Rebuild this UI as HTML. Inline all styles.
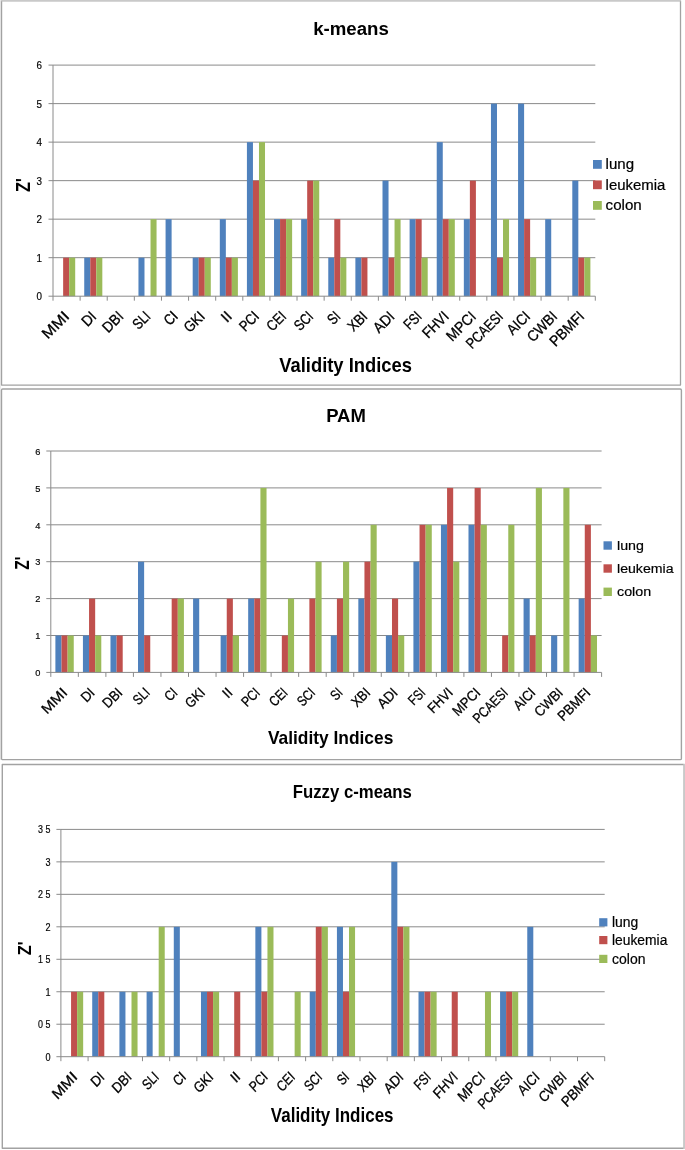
<!DOCTYPE html>
<html lang="en"><head><meta charset="utf-8"><title>Validity indices charts</title>
<style>
html,body{margin:0;padding:0;background:#fff}
svg{display:block}
text{font-family:"Liberation Sans",Arial,sans-serif;fill:#000}
.b{font-weight:bold}
</style></head><body>
<svg width="685" height="1150" viewBox="0 0 685 1150">
<rect width="685" height="1150" fill="#fff"/>
<rect x="0" y="0" width="0.9" height="760" fill="#e8e8e8"/>
<g id="chart1">
<rect x="0.9" y="0" width="680.2" height="1.75" fill="#c9c9c9"/>
<path d="M1.55,1.2 L1.55,385.1 L680.5,385.1 L680.5,1.2" fill="none" stroke="#a2a2a2" stroke-width="1.3" stroke-linejoin="round"/>
<line x1="53" y1="257.68" x2="595.3" y2="257.68" stroke="#8a8a8a" stroke-width="1"/>
<line x1="53" y1="219.17" x2="595.3" y2="219.17" stroke="#8a8a8a" stroke-width="1"/>
<line x1="53" y1="180.65" x2="595.3" y2="180.65" stroke="#8a8a8a" stroke-width="1"/>
<line x1="53" y1="142.13" x2="595.3" y2="142.13" stroke="#8a8a8a" stroke-width="1"/>
<line x1="53" y1="103.62" x2="595.3" y2="103.62" stroke="#8a8a8a" stroke-width="1"/>
<line x1="53" y1="65.1" x2="595.3" y2="65.1" stroke="#8a8a8a" stroke-width="1"/>
<rect x="63.14" y="257.68" width="6.03" height="38.52" fill="#c0504d"/>
<rect x="69.17" y="257.68" width="6.03" height="38.52" fill="#9bbb59"/>
<rect x="84.23" y="257.68" width="6.03" height="38.52" fill="#4f81bd"/>
<rect x="90.26" y="257.68" width="6.03" height="38.52" fill="#c0504d"/>
<rect x="96.29" y="257.68" width="6.03" height="38.52" fill="#9bbb59"/>
<rect x="138.46" y="257.68" width="6.03" height="38.52" fill="#4f81bd"/>
<rect x="150.52" y="219.17" width="6.03" height="77.03" fill="#9bbb59"/>
<rect x="165.58" y="219.17" width="6.03" height="77.03" fill="#4f81bd"/>
<rect x="192.69" y="257.68" width="6.03" height="38.52" fill="#4f81bd"/>
<rect x="198.72" y="257.68" width="6.03" height="38.52" fill="#c0504d"/>
<rect x="204.75" y="257.68" width="6.03" height="38.52" fill="#9bbb59"/>
<rect x="219.81" y="219.17" width="6.03" height="77.03" fill="#4f81bd"/>
<rect x="225.83" y="257.68" width="6.03" height="38.52" fill="#c0504d"/>
<rect x="231.86" y="257.68" width="6.03" height="38.52" fill="#9bbb59"/>
<rect x="246.92" y="142.13" width="6.03" height="154.07" fill="#4f81bd"/>
<rect x="252.95" y="180.65" width="6.03" height="115.55" fill="#c0504d"/>
<rect x="258.98" y="142.13" width="6.03" height="154.07" fill="#9bbb59"/>
<rect x="274.04" y="219.17" width="6.03" height="77.03" fill="#4f81bd"/>
<rect x="280.06" y="219.17" width="6.03" height="77.03" fill="#c0504d"/>
<rect x="286.09" y="219.17" width="6.03" height="77.03" fill="#9bbb59"/>
<rect x="301.15" y="219.17" width="6.03" height="77.03" fill="#4f81bd"/>
<rect x="307.18" y="180.65" width="6.03" height="115.55" fill="#c0504d"/>
<rect x="313.21" y="180.65" width="6.03" height="115.55" fill="#9bbb59"/>
<rect x="328.27" y="257.68" width="6.03" height="38.52" fill="#4f81bd"/>
<rect x="334.29" y="219.17" width="6.03" height="77.03" fill="#c0504d"/>
<rect x="340.32" y="257.68" width="6.03" height="38.52" fill="#9bbb59"/>
<rect x="355.38" y="257.68" width="6.03" height="38.52" fill="#4f81bd"/>
<rect x="361.41" y="257.68" width="6.03" height="38.52" fill="#c0504d"/>
<rect x="382.5" y="180.65" width="6.03" height="115.55" fill="#4f81bd"/>
<rect x="388.52" y="257.68" width="6.03" height="38.52" fill="#c0504d"/>
<rect x="394.55" y="219.17" width="6.03" height="77.03" fill="#9bbb59"/>
<rect x="409.61" y="219.17" width="6.03" height="77.03" fill="#4f81bd"/>
<rect x="415.64" y="219.17" width="6.03" height="77.03" fill="#c0504d"/>
<rect x="421.67" y="257.68" width="6.03" height="38.52" fill="#9bbb59"/>
<rect x="436.73" y="142.13" width="6.03" height="154.07" fill="#4f81bd"/>
<rect x="442.75" y="219.17" width="6.03" height="77.03" fill="#c0504d"/>
<rect x="448.78" y="219.17" width="6.03" height="77.03" fill="#9bbb59"/>
<rect x="463.84" y="219.17" width="6.03" height="77.03" fill="#4f81bd"/>
<rect x="469.87" y="180.65" width="6.03" height="115.55" fill="#c0504d"/>
<rect x="490.96" y="103.62" width="6.03" height="192.58" fill="#4f81bd"/>
<rect x="496.98" y="257.68" width="6.03" height="38.52" fill="#c0504d"/>
<rect x="503.01" y="219.17" width="6.03" height="77.03" fill="#9bbb59"/>
<rect x="518.07" y="103.62" width="6.03" height="192.58" fill="#4f81bd"/>
<rect x="524.1" y="219.17" width="6.03" height="77.03" fill="#c0504d"/>
<rect x="530.13" y="257.68" width="6.03" height="38.52" fill="#9bbb59"/>
<rect x="545.19" y="219.17" width="6.03" height="77.03" fill="#4f81bd"/>
<rect x="572.3" y="180.65" width="6.03" height="115.55" fill="#4f81bd"/>
<rect x="578.33" y="257.68" width="6.03" height="38.52" fill="#c0504d"/>
<rect x="584.36" y="257.68" width="6.03" height="38.52" fill="#9bbb59"/>
<line x1="53" y1="65.1" x2="53" y2="300.7" stroke="#8a8a8a" stroke-width="1"/>
<line x1="48.5" y1="296.2" x2="595.3" y2="296.2" stroke="#8a8a8a" stroke-width="1"/>
<line x1="48.5" y1="257.68" x2="53" y2="257.68" stroke="#8a8a8a" stroke-width="1"/>
<line x1="48.5" y1="219.17" x2="53" y2="219.17" stroke="#8a8a8a" stroke-width="1"/>
<line x1="48.5" y1="180.65" x2="53" y2="180.65" stroke="#8a8a8a" stroke-width="1"/>
<line x1="48.5" y1="142.13" x2="53" y2="142.13" stroke="#8a8a8a" stroke-width="1"/>
<line x1="48.5" y1="103.62" x2="53" y2="103.62" stroke="#8a8a8a" stroke-width="1"/>
<line x1="48.5" y1="65.1" x2="53" y2="65.1" stroke="#8a8a8a" stroke-width="1"/>
<line x1="80.11" y1="296.2" x2="80.11" y2="300.7" stroke="#8a8a8a" stroke-width="1"/>
<line x1="107.23" y1="296.2" x2="107.23" y2="300.7" stroke="#8a8a8a" stroke-width="1"/>
<line x1="134.34" y1="296.2" x2="134.34" y2="300.7" stroke="#8a8a8a" stroke-width="1"/>
<line x1="161.46" y1="296.2" x2="161.46" y2="300.7" stroke="#8a8a8a" stroke-width="1"/>
<line x1="188.57" y1="296.2" x2="188.57" y2="300.7" stroke="#8a8a8a" stroke-width="1"/>
<line x1="215.69" y1="296.2" x2="215.69" y2="300.7" stroke="#8a8a8a" stroke-width="1"/>
<line x1="242.8" y1="296.2" x2="242.8" y2="300.7" stroke="#8a8a8a" stroke-width="1"/>
<line x1="269.92" y1="296.2" x2="269.92" y2="300.7" stroke="#8a8a8a" stroke-width="1"/>
<line x1="297.03" y1="296.2" x2="297.03" y2="300.7" stroke="#8a8a8a" stroke-width="1"/>
<line x1="324.15" y1="296.2" x2="324.15" y2="300.7" stroke="#8a8a8a" stroke-width="1"/>
<line x1="351.26" y1="296.2" x2="351.26" y2="300.7" stroke="#8a8a8a" stroke-width="1"/>
<line x1="378.38" y1="296.2" x2="378.38" y2="300.7" stroke="#8a8a8a" stroke-width="1"/>
<line x1="405.5" y1="296.2" x2="405.5" y2="300.7" stroke="#8a8a8a" stroke-width="1"/>
<line x1="432.61" y1="296.2" x2="432.61" y2="300.7" stroke="#8a8a8a" stroke-width="1"/>
<line x1="459.72" y1="296.2" x2="459.72" y2="300.7" stroke="#8a8a8a" stroke-width="1"/>
<line x1="486.84" y1="296.2" x2="486.84" y2="300.7" stroke="#8a8a8a" stroke-width="1"/>
<line x1="513.95" y1="296.2" x2="513.95" y2="300.7" stroke="#8a8a8a" stroke-width="1"/>
<line x1="541.07" y1="296.2" x2="541.07" y2="300.7" stroke="#8a8a8a" stroke-width="1"/>
<line x1="568.18" y1="296.2" x2="568.18" y2="300.7" stroke="#8a8a8a" stroke-width="1"/>
<line x1="595.3" y1="296.2" x2="595.3" y2="300.7" stroke="#8a8a8a" stroke-width="1"/>
<g transform="translate(41.9,296.2) scale(1.0,1.0)"><text x="0" y="3.91" text-anchor="end" font-size="10.48" textLength="5.47" lengthAdjust="spacingAndGlyphs" fill="#111" stroke="#111" stroke-width="0.2">0</text></g>
<g transform="translate(41.9,257.68) scale(1.0,1.0)"><text x="0" y="3.91" text-anchor="end" font-size="10.48" textLength="5.47" lengthAdjust="spacingAndGlyphs" fill="#111" stroke="#111" stroke-width="0.2">1</text></g>
<g transform="translate(41.9,219.17) scale(1.0,1.0)"><text x="0" y="3.91" text-anchor="end" font-size="10.48" textLength="5.47" lengthAdjust="spacingAndGlyphs" fill="#111" stroke="#111" stroke-width="0.2">2</text></g>
<g transform="translate(41.9,180.65) scale(1.0,1.0)"><text x="0" y="3.91" text-anchor="end" font-size="10.48" textLength="5.47" lengthAdjust="spacingAndGlyphs" fill="#111" stroke="#111" stroke-width="0.2">3</text></g>
<g transform="translate(41.9,142.13) scale(1.0,1.0)"><text x="0" y="3.91" text-anchor="end" font-size="10.48" textLength="5.47" lengthAdjust="spacingAndGlyphs" fill="#111" stroke="#111" stroke-width="0.2">4</text></g>
<g transform="translate(41.9,103.62) scale(1.0,1.0)"><text x="0" y="3.91" text-anchor="end" font-size="10.48" textLength="5.47" lengthAdjust="spacingAndGlyphs" fill="#111" stroke="#111" stroke-width="0.2">5</text></g>
<g transform="translate(41.9,65.1) scale(1.0,1.0)"><text x="0" y="3.91" text-anchor="end" font-size="10.48" textLength="5.47" lengthAdjust="spacingAndGlyphs" fill="#111" stroke="#111" stroke-width="0.2">6</text></g>
<g transform="translate(70.16,317.4) scale(1.0,1.0) rotate(-45)"><text x="0" y="0" text-anchor="end" font-size="14.97" textLength="31.59" lengthAdjust="spacingAndGlyphs" stroke="#000" stroke-width="0.3">MMI</text></g>
<g transform="translate(97.27,317.4) scale(1.0,1.0) rotate(-45)"><text x="0" y="0" text-anchor="end" font-size="14.97" textLength="13.96" lengthAdjust="spacingAndGlyphs" stroke="#000" stroke-width="0.3">DI</text></g>
<g transform="translate(124.39,317.4) scale(1.0,1.0) rotate(-45)"><text x="0" y="0" text-anchor="end" font-size="14.97" textLength="22.72" lengthAdjust="spacingAndGlyphs" stroke="#000" stroke-width="0.3">DBI</text></g>
<g transform="translate(151.5,317.4) scale(1.0,1.0) rotate(-45)"><text x="0" y="0" text-anchor="end" font-size="14.97" textLength="18.22" lengthAdjust="spacingAndGlyphs" stroke="#000" stroke-width="0.3">SLI</text></g>
<g transform="translate(178.62,317.4) scale(1.0,1.0) rotate(-45)"><text x="0" y="0" text-anchor="end" font-size="14.97" textLength="12.64" lengthAdjust="spacingAndGlyphs" stroke="#000" stroke-width="0.3">CI</text></g>
<g transform="translate(205.73,317.4) scale(1.0,1.0) rotate(-45)"><text x="0" y="0" text-anchor="end" font-size="14.97" textLength="22.58" lengthAdjust="spacingAndGlyphs" stroke="#000" stroke-width="0.3">GKI</text></g>
<g transform="translate(232.85,317.4) scale(1.0,1.0) rotate(-45)"><text x="0" y="0" text-anchor="end" font-size="14.97" textLength="8.11" lengthAdjust="spacingAndGlyphs" stroke="#000" stroke-width="0.3">II</text></g>
<g transform="translate(259.96,317.4) scale(1.0,1.0) rotate(-45)"><text x="0" y="0" text-anchor="end" font-size="14.97" textLength="20.96" lengthAdjust="spacingAndGlyphs" stroke="#000" stroke-width="0.3">PCI</text></g>
<g transform="translate(287.08,317.4) scale(1.0,1.0) rotate(-45)"><text x="0" y="0" text-anchor="end" font-size="14.97" textLength="20.5" lengthAdjust="spacingAndGlyphs" stroke="#000" stroke-width="0.3">CEI</text></g>
<g transform="translate(314.19,317.4) scale(1.0,1.0) rotate(-45)"><text x="0" y="0" text-anchor="end" font-size="14.97" textLength="20.04" lengthAdjust="spacingAndGlyphs" stroke="#000" stroke-width="0.3">SCI</text></g>
<g transform="translate(341.31,317.4) scale(1.0,1.0) rotate(-45)"><text x="0" y="0" text-anchor="end" font-size="14.97" textLength="11.45" lengthAdjust="spacingAndGlyphs" stroke="#000" stroke-width="0.3">SI</text></g>
<g transform="translate(368.42,317.4) scale(1.0,1.0) rotate(-45)"><text x="0" y="0" text-anchor="end" font-size="14.97" textLength="21.17" lengthAdjust="spacingAndGlyphs" stroke="#000" stroke-width="0.3">XBI</text></g>
<g transform="translate(395.54,317.4) scale(1.0,1.0) rotate(-45)"><text x="0" y="0" text-anchor="end" font-size="14.97" textLength="23.28" lengthAdjust="spacingAndGlyphs" stroke="#000" stroke-width="0.3">ADI</text></g>
<g transform="translate(422.65,317.4) scale(1.0,1.0) rotate(-45)"><text x="0" y="0" text-anchor="end" font-size="14.97" textLength="18.62" lengthAdjust="spacingAndGlyphs" stroke="#000" stroke-width="0.3">FSI</text></g>
<g transform="translate(449.77,317.4) scale(1.0,1.0) rotate(-45)"><text x="0" y="0" text-anchor="end" font-size="14.97" textLength="30.62" lengthAdjust="spacingAndGlyphs" stroke="#000" stroke-width="0.3">FHVI</text></g>
<g transform="translate(476.88,317.4) scale(1.0,1.0) rotate(-45)"><text x="0" y="0" text-anchor="end" font-size="14.97" textLength="34.72" lengthAdjust="spacingAndGlyphs" stroke="#000" stroke-width="0.3">MPCI</text></g>
<g transform="translate(504,317.4) scale(1.0,1.0) rotate(-45)"><text x="0" y="0" text-anchor="end" font-size="14.97" textLength="45.38" lengthAdjust="spacingAndGlyphs" stroke="#000" stroke-width="0.3">PCAESI</text></g>
<g transform="translate(531.11,317.4) scale(1.0,1.0) rotate(-45)"><text x="0" y="0" text-anchor="end" font-size="14.97" textLength="26.01" lengthAdjust="spacingAndGlyphs" stroke="#000" stroke-width="0.3">AICI</text></g>
<g transform="translate(558.23,317.4) scale(1.0,1.0) rotate(-45)"><text x="0" y="0" text-anchor="end" font-size="14.97" textLength="35.72" lengthAdjust="spacingAndGlyphs" stroke="#000" stroke-width="0.3">CWBI</text></g>
<g transform="translate(585.34,317.4) scale(1.0,1.0) rotate(-45)"><text x="0" y="0" text-anchor="end" font-size="14.97" textLength="42.29" lengthAdjust="spacingAndGlyphs" stroke="#000" stroke-width="0.3">PBMFI</text></g>
<g transform="translate(351,34.6) scale(1.0,1.0)"><text class="b" x="0" y="0" text-anchor="middle" font-size="19.19" textLength="75.64" lengthAdjust="spacingAndGlyphs">k-means</text></g>
<g transform="translate(345.6,371.8) scale(1.0,1.0)"><text class="b" x="0" y="0" text-anchor="middle" font-size="19.62" textLength="132.66" lengthAdjust="spacingAndGlyphs">Validity Indices</text></g>
<g transform="translate(29.6,185) scale(1.0,1.0) rotate(-90)"><text class="b" x="0" y="0" text-anchor="middle" font-size="20.68" textLength="13.81" lengthAdjust="spacingAndGlyphs">Z'</text></g>
<rect x="593" y="160" width="8.8" height="8.8" fill="#4f81bd"/>
<g transform="translate(605.6,164.4) scale(1.0,1.0)"><text x="0" y="4.7" font-size="14.25" textLength="28.47" lengthAdjust="spacingAndGlyphs" stroke="#000" stroke-width="0.2">lung</text></g>
<rect x="593" y="180.4" width="8.8" height="8.8" fill="#c0504d"/>
<g transform="translate(605.6,184.8) scale(1.0,1.0)"><text x="0" y="4.7" font-size="14.25" textLength="59.84" lengthAdjust="spacingAndGlyphs" stroke="#000" stroke-width="0.2">leukemia</text></g>
<rect x="593" y="201" width="8.8" height="8.8" fill="#9bbb59"/>
<g transform="translate(605.6,205.4) scale(1.0,1.0)"><text x="0" y="4.7" font-size="14.25" textLength="36.17" lengthAdjust="spacingAndGlyphs" stroke="#000" stroke-width="0.2">colon</text></g>
</g>
<g id="chart2">
<rect x="1.5" y="389" width="679.9" height="370.6" rx="1.2" fill="none" stroke="#a2a2a2" stroke-width="1.4"/>
<line x1="50.8" y1="635.5" x2="601.6" y2="635.5" stroke="#8a8a8a" stroke-width="1"/>
<line x1="50.8" y1="598.6" x2="601.6" y2="598.6" stroke="#8a8a8a" stroke-width="1"/>
<line x1="50.8" y1="561.7" x2="601.6" y2="561.7" stroke="#8a8a8a" stroke-width="1"/>
<line x1="50.8" y1="524.8" x2="601.6" y2="524.8" stroke="#8a8a8a" stroke-width="1"/>
<line x1="50.8" y1="487.9" x2="601.6" y2="487.9" stroke="#8a8a8a" stroke-width="1"/>
<line x1="50.8" y1="451" x2="601.6" y2="451" stroke="#8a8a8a" stroke-width="1"/>
<rect x="55.39" y="635.5" width="6.12" height="36.9" fill="#4f81bd"/>
<rect x="61.51" y="635.5" width="6.12" height="36.9" fill="#c0504d"/>
<rect x="67.63" y="635.5" width="6.12" height="36.9" fill="#9bbb59"/>
<rect x="82.93" y="635.5" width="6.12" height="36.9" fill="#4f81bd"/>
<rect x="89.05" y="598.6" width="6.12" height="73.8" fill="#c0504d"/>
<rect x="95.17" y="635.5" width="6.12" height="36.9" fill="#9bbb59"/>
<rect x="110.47" y="635.5" width="6.12" height="36.9" fill="#4f81bd"/>
<rect x="116.59" y="635.5" width="6.12" height="36.9" fill="#c0504d"/>
<rect x="138.01" y="561.7" width="6.12" height="110.7" fill="#4f81bd"/>
<rect x="144.13" y="635.5" width="6.12" height="36.9" fill="#c0504d"/>
<rect x="171.67" y="598.6" width="6.12" height="73.8" fill="#c0504d"/>
<rect x="177.79" y="598.6" width="6.12" height="73.8" fill="#9bbb59"/>
<rect x="193.09" y="598.6" width="6.12" height="73.8" fill="#4f81bd"/>
<rect x="220.63" y="635.5" width="6.12" height="36.9" fill="#4f81bd"/>
<rect x="226.75" y="598.6" width="6.12" height="73.8" fill="#c0504d"/>
<rect x="232.87" y="635.5" width="6.12" height="36.9" fill="#9bbb59"/>
<rect x="248.17" y="598.6" width="6.12" height="73.8" fill="#4f81bd"/>
<rect x="254.29" y="598.6" width="6.12" height="73.8" fill="#c0504d"/>
<rect x="260.41" y="487.9" width="6.12" height="184.5" fill="#9bbb59"/>
<rect x="281.83" y="635.5" width="6.12" height="36.9" fill="#c0504d"/>
<rect x="287.95" y="598.6" width="6.12" height="73.8" fill="#9bbb59"/>
<rect x="309.37" y="598.6" width="6.12" height="73.8" fill="#c0504d"/>
<rect x="315.49" y="561.7" width="6.12" height="110.7" fill="#9bbb59"/>
<rect x="330.79" y="635.5" width="6.12" height="36.9" fill="#4f81bd"/>
<rect x="336.91" y="598.6" width="6.12" height="73.8" fill="#c0504d"/>
<rect x="343.03" y="561.7" width="6.12" height="110.7" fill="#9bbb59"/>
<rect x="358.33" y="598.6" width="6.12" height="73.8" fill="#4f81bd"/>
<rect x="364.45" y="561.7" width="6.12" height="110.7" fill="#c0504d"/>
<rect x="370.57" y="524.8" width="6.12" height="147.6" fill="#9bbb59"/>
<rect x="385.87" y="635.5" width="6.12" height="36.9" fill="#4f81bd"/>
<rect x="391.99" y="598.6" width="6.12" height="73.8" fill="#c0504d"/>
<rect x="398.11" y="635.5" width="6.12" height="36.9" fill="#9bbb59"/>
<rect x="413.41" y="561.7" width="6.12" height="110.7" fill="#4f81bd"/>
<rect x="419.53" y="524.8" width="6.12" height="147.6" fill="#c0504d"/>
<rect x="425.65" y="524.8" width="6.12" height="147.6" fill="#9bbb59"/>
<rect x="440.95" y="524.8" width="6.12" height="147.6" fill="#4f81bd"/>
<rect x="447.07" y="487.9" width="6.12" height="184.5" fill="#c0504d"/>
<rect x="453.19" y="561.7" width="6.12" height="110.7" fill="#9bbb59"/>
<rect x="468.49" y="524.8" width="6.12" height="147.6" fill="#4f81bd"/>
<rect x="474.61" y="487.9" width="6.12" height="184.5" fill="#c0504d"/>
<rect x="480.73" y="524.8" width="6.12" height="147.6" fill="#9bbb59"/>
<rect x="502.15" y="635.5" width="6.12" height="36.9" fill="#c0504d"/>
<rect x="508.27" y="524.8" width="6.12" height="147.6" fill="#9bbb59"/>
<rect x="523.57" y="598.6" width="6.12" height="73.8" fill="#4f81bd"/>
<rect x="529.69" y="635.5" width="6.12" height="36.9" fill="#c0504d"/>
<rect x="535.81" y="487.9" width="6.12" height="184.5" fill="#9bbb59"/>
<rect x="551.11" y="635.5" width="6.12" height="36.9" fill="#4f81bd"/>
<rect x="563.35" y="487.9" width="6.12" height="184.5" fill="#9bbb59"/>
<rect x="578.65" y="598.6" width="6.12" height="73.8" fill="#4f81bd"/>
<rect x="584.77" y="524.8" width="6.12" height="147.6" fill="#c0504d"/>
<rect x="590.89" y="635.5" width="6.12" height="36.9" fill="#9bbb59"/>
<line x1="50.8" y1="451" x2="50.8" y2="676.9" stroke="#8a8a8a" stroke-width="1"/>
<line x1="46.3" y1="672.4" x2="601.6" y2="672.4" stroke="#8a8a8a" stroke-width="1"/>
<line x1="46.3" y1="635.5" x2="50.8" y2="635.5" stroke="#8a8a8a" stroke-width="1"/>
<line x1="46.3" y1="598.6" x2="50.8" y2="598.6" stroke="#8a8a8a" stroke-width="1"/>
<line x1="46.3" y1="561.7" x2="50.8" y2="561.7" stroke="#8a8a8a" stroke-width="1"/>
<line x1="46.3" y1="524.8" x2="50.8" y2="524.8" stroke="#8a8a8a" stroke-width="1"/>
<line x1="46.3" y1="487.9" x2="50.8" y2="487.9" stroke="#8a8a8a" stroke-width="1"/>
<line x1="46.3" y1="451" x2="50.8" y2="451" stroke="#8a8a8a" stroke-width="1"/>
<line x1="78.34" y1="672.4" x2="78.34" y2="676.9" stroke="#8a8a8a" stroke-width="1"/>
<line x1="105.88" y1="672.4" x2="105.88" y2="676.9" stroke="#8a8a8a" stroke-width="1"/>
<line x1="133.42" y1="672.4" x2="133.42" y2="676.9" stroke="#8a8a8a" stroke-width="1"/>
<line x1="160.96" y1="672.4" x2="160.96" y2="676.9" stroke="#8a8a8a" stroke-width="1"/>
<line x1="188.5" y1="672.4" x2="188.5" y2="676.9" stroke="#8a8a8a" stroke-width="1"/>
<line x1="216.04" y1="672.4" x2="216.04" y2="676.9" stroke="#8a8a8a" stroke-width="1"/>
<line x1="243.58" y1="672.4" x2="243.58" y2="676.9" stroke="#8a8a8a" stroke-width="1"/>
<line x1="271.12" y1="672.4" x2="271.12" y2="676.9" stroke="#8a8a8a" stroke-width="1"/>
<line x1="298.66" y1="672.4" x2="298.66" y2="676.9" stroke="#8a8a8a" stroke-width="1"/>
<line x1="326.2" y1="672.4" x2="326.2" y2="676.9" stroke="#8a8a8a" stroke-width="1"/>
<line x1="353.74" y1="672.4" x2="353.74" y2="676.9" stroke="#8a8a8a" stroke-width="1"/>
<line x1="381.28" y1="672.4" x2="381.28" y2="676.9" stroke="#8a8a8a" stroke-width="1"/>
<line x1="408.82" y1="672.4" x2="408.82" y2="676.9" stroke="#8a8a8a" stroke-width="1"/>
<line x1="436.36" y1="672.4" x2="436.36" y2="676.9" stroke="#8a8a8a" stroke-width="1"/>
<line x1="463.9" y1="672.4" x2="463.9" y2="676.9" stroke="#8a8a8a" stroke-width="1"/>
<line x1="491.44" y1="672.4" x2="491.44" y2="676.9" stroke="#8a8a8a" stroke-width="1"/>
<line x1="518.98" y1="672.4" x2="518.98" y2="676.9" stroke="#8a8a8a" stroke-width="1"/>
<line x1="546.52" y1="672.4" x2="546.52" y2="676.9" stroke="#8a8a8a" stroke-width="1"/>
<line x1="574.06" y1="672.4" x2="574.06" y2="676.9" stroke="#8a8a8a" stroke-width="1"/>
<line x1="601.6" y1="672.4" x2="601.6" y2="676.9" stroke="#8a8a8a" stroke-width="1"/>
<g transform="translate(40.4,672.4) scale(0.945,0.945)"><text x="0" y="3.91" text-anchor="end" font-size="10.48" textLength="5.47" lengthAdjust="spacingAndGlyphs" fill="#111" stroke="#111" stroke-width="0.2">0</text></g>
<g transform="translate(40.4,635.5) scale(0.945,0.945)"><text x="0" y="3.91" text-anchor="end" font-size="10.48" textLength="5.47" lengthAdjust="spacingAndGlyphs" fill="#111" stroke="#111" stroke-width="0.2">1</text></g>
<g transform="translate(40.4,598.6) scale(0.945,0.945)"><text x="0" y="3.91" text-anchor="end" font-size="10.48" textLength="5.47" lengthAdjust="spacingAndGlyphs" fill="#111" stroke="#111" stroke-width="0.2">2</text></g>
<g transform="translate(40.4,561.7) scale(0.945,0.945)"><text x="0" y="3.91" text-anchor="end" font-size="10.48" textLength="5.47" lengthAdjust="spacingAndGlyphs" fill="#111" stroke="#111" stroke-width="0.2">3</text></g>
<g transform="translate(40.4,524.8) scale(0.945,0.945)"><text x="0" y="3.91" text-anchor="end" font-size="10.48" textLength="5.47" lengthAdjust="spacingAndGlyphs" fill="#111" stroke="#111" stroke-width="0.2">4</text></g>
<g transform="translate(40.4,487.9) scale(0.945,0.945)"><text x="0" y="3.91" text-anchor="end" font-size="10.48" textLength="5.47" lengthAdjust="spacingAndGlyphs" fill="#111" stroke="#111" stroke-width="0.2">5</text></g>
<g transform="translate(40.4,451) scale(0.945,0.945)"><text x="0" y="3.91" text-anchor="end" font-size="10.48" textLength="5.47" lengthAdjust="spacingAndGlyphs" fill="#111" stroke="#111" stroke-width="0.2">6</text></g>
<g transform="translate(68.17,693.6) scale(0.945,0.945) rotate(-45)"><text x="0" y="0" text-anchor="end" font-size="14.97" textLength="31.59" lengthAdjust="spacingAndGlyphs" stroke="#000" stroke-width="0.3">MMI</text></g>
<g transform="translate(95.71,693.6) scale(0.945,0.945) rotate(-45)"><text x="0" y="0" text-anchor="end" font-size="14.97" textLength="13.96" lengthAdjust="spacingAndGlyphs" stroke="#000" stroke-width="0.3">DI</text></g>
<g transform="translate(123.25,693.6) scale(0.945,0.945) rotate(-45)"><text x="0" y="0" text-anchor="end" font-size="14.97" textLength="22.72" lengthAdjust="spacingAndGlyphs" stroke="#000" stroke-width="0.3">DBI</text></g>
<g transform="translate(150.79,693.6) scale(0.945,0.945) rotate(-45)"><text x="0" y="0" text-anchor="end" font-size="14.97" textLength="18.22" lengthAdjust="spacingAndGlyphs" stroke="#000" stroke-width="0.3">SLI</text></g>
<g transform="translate(178.33,693.6) scale(0.945,0.945) rotate(-45)"><text x="0" y="0" text-anchor="end" font-size="14.97" textLength="12.64" lengthAdjust="spacingAndGlyphs" stroke="#000" stroke-width="0.3">CI</text></g>
<g transform="translate(205.87,693.6) scale(0.945,0.945) rotate(-45)"><text x="0" y="0" text-anchor="end" font-size="14.97" textLength="22.58" lengthAdjust="spacingAndGlyphs" stroke="#000" stroke-width="0.3">GKI</text></g>
<g transform="translate(233.41,693.6) scale(0.945,0.945) rotate(-45)"><text x="0" y="0" text-anchor="end" font-size="14.97" textLength="8.11" lengthAdjust="spacingAndGlyphs" stroke="#000" stroke-width="0.3">II</text></g>
<g transform="translate(260.95,693.6) scale(0.945,0.945) rotate(-45)"><text x="0" y="0" text-anchor="end" font-size="14.97" textLength="20.96" lengthAdjust="spacingAndGlyphs" stroke="#000" stroke-width="0.3">PCI</text></g>
<g transform="translate(288.49,693.6) scale(0.945,0.945) rotate(-45)"><text x="0" y="0" text-anchor="end" font-size="14.97" textLength="20.5" lengthAdjust="spacingAndGlyphs" stroke="#000" stroke-width="0.3">CEI</text></g>
<g transform="translate(316.03,693.6) scale(0.945,0.945) rotate(-45)"><text x="0" y="0" text-anchor="end" font-size="14.97" textLength="20.04" lengthAdjust="spacingAndGlyphs" stroke="#000" stroke-width="0.3">SCI</text></g>
<g transform="translate(343.57,693.6) scale(0.945,0.945) rotate(-45)"><text x="0" y="0" text-anchor="end" font-size="14.97" textLength="11.45" lengthAdjust="spacingAndGlyphs" stroke="#000" stroke-width="0.3">SI</text></g>
<g transform="translate(371.11,693.6) scale(0.945,0.945) rotate(-45)"><text x="0" y="0" text-anchor="end" font-size="14.97" textLength="21.17" lengthAdjust="spacingAndGlyphs" stroke="#000" stroke-width="0.3">XBI</text></g>
<g transform="translate(398.65,693.6) scale(0.945,0.945) rotate(-45)"><text x="0" y="0" text-anchor="end" font-size="14.97" textLength="23.28" lengthAdjust="spacingAndGlyphs" stroke="#000" stroke-width="0.3">ADI</text></g>
<g transform="translate(426.19,693.6) scale(0.945,0.945) rotate(-45)"><text x="0" y="0" text-anchor="end" font-size="14.97" textLength="18.62" lengthAdjust="spacingAndGlyphs" stroke="#000" stroke-width="0.3">FSI</text></g>
<g transform="translate(453.73,693.6) scale(0.945,0.945) rotate(-45)"><text x="0" y="0" text-anchor="end" font-size="14.97" textLength="30.62" lengthAdjust="spacingAndGlyphs" stroke="#000" stroke-width="0.3">FHVI</text></g>
<g transform="translate(481.27,693.6) scale(0.945,0.945) rotate(-45)"><text x="0" y="0" text-anchor="end" font-size="14.97" textLength="34.72" lengthAdjust="spacingAndGlyphs" stroke="#000" stroke-width="0.3">MPCI</text></g>
<g transform="translate(508.81,693.6) scale(0.945,0.945) rotate(-45)"><text x="0" y="0" text-anchor="end" font-size="14.97" textLength="45.38" lengthAdjust="spacingAndGlyphs" stroke="#000" stroke-width="0.3">PCAESI</text></g>
<g transform="translate(536.35,693.6) scale(0.945,0.945) rotate(-45)"><text x="0" y="0" text-anchor="end" font-size="14.97" textLength="26.01" lengthAdjust="spacingAndGlyphs" stroke="#000" stroke-width="0.3">AICI</text></g>
<g transform="translate(563.89,693.6) scale(0.945,0.945) rotate(-45)"><text x="0" y="0" text-anchor="end" font-size="14.97" textLength="35.72" lengthAdjust="spacingAndGlyphs" stroke="#000" stroke-width="0.3">CWBI</text></g>
<g transform="translate(591.43,693.6) scale(0.945,0.945) rotate(-45)"><text x="0" y="0" text-anchor="end" font-size="14.97" textLength="42.29" lengthAdjust="spacingAndGlyphs" stroke="#000" stroke-width="0.3">PBMFI</text></g>
<g transform="translate(346,421.5) scale(0.945,0.945)"><text class="b" x="0" y="0" text-anchor="middle" font-size="19.93" textLength="42.04" lengthAdjust="spacingAndGlyphs">PAM</text></g>
<g transform="translate(330.6,744.3) scale(0.945,0.945)"><text class="b" x="0" y="0" text-anchor="middle" font-size="19.62" textLength="132.66" lengthAdjust="spacingAndGlyphs">Validity Indices</text></g>
<g transform="translate(28.5,563.2) scale(0.945,0.945) rotate(-90)"><text class="b" x="0" y="0" text-anchor="middle" font-size="20.68" textLength="13.81" lengthAdjust="spacingAndGlyphs">Z'</text></g>
<rect x="603.5" y="541.3" width="8.4" height="8.4" fill="#4f81bd"/>
<g transform="translate(617,545.5) scale(0.945,0.945)"><text x="0" y="4.4" font-size="14.25" textLength="28.47" lengthAdjust="spacingAndGlyphs" stroke="#000" stroke-width="0.2">lung</text></g>
<rect x="603.5" y="564.3" width="8.4" height="8.4" fill="#c0504d"/>
<g transform="translate(617,568.5) scale(0.945,0.945)"><text x="0" y="4.4" font-size="14.25" textLength="59.84" lengthAdjust="spacingAndGlyphs" stroke="#000" stroke-width="0.2">leukemia</text></g>
<rect x="603.5" y="587.6" width="8.4" height="8.4" fill="#9bbb59"/>
<g transform="translate(617,591.8) scale(0.945,0.945)"><text x="0" y="4.4" font-size="14.25" textLength="36.17" lengthAdjust="spacingAndGlyphs" stroke="#000" stroke-width="0.2">colon</text></g>
</g>
<g id="chart3">
<rect x="683.1" y="763.8" width="1.9" height="385.1" fill="#c9c9c9"/>
<path d="M683.4,764.45 L2.3,764.45 L2.3,1148.3 L683.4,1148.3" fill="none" stroke="#a2a2a2" stroke-width="1.4" stroke-linejoin="round"/>
<line x1="60.9" y1="1024.23" x2="604.7" y2="1024.23" stroke="#8a8a8a" stroke-width="1"/>
<line x1="60.9" y1="991.76" x2="604.7" y2="991.76" stroke="#8a8a8a" stroke-width="1"/>
<line x1="60.9" y1="959.29" x2="604.7" y2="959.29" stroke="#8a8a8a" stroke-width="1"/>
<line x1="60.9" y1="926.81" x2="604.7" y2="926.81" stroke="#8a8a8a" stroke-width="1"/>
<line x1="60.9" y1="894.34" x2="604.7" y2="894.34" stroke="#8a8a8a" stroke-width="1"/>
<line x1="60.9" y1="861.87" x2="604.7" y2="861.87" stroke="#8a8a8a" stroke-width="1"/>
<line x1="60.9" y1="829.4" x2="604.7" y2="829.4" stroke="#8a8a8a" stroke-width="1"/>
<rect x="71.07" y="991.76" width="6.04" height="64.94" fill="#c0504d"/>
<rect x="77.12" y="991.76" width="6.04" height="64.94" fill="#9bbb59"/>
<rect x="92.22" y="991.76" width="6.04" height="64.94" fill="#4f81bd"/>
<rect x="98.26" y="991.76" width="6.04" height="64.94" fill="#c0504d"/>
<rect x="119.41" y="991.76" width="6.04" height="64.94" fill="#4f81bd"/>
<rect x="131.5" y="991.76" width="6.04" height="64.94" fill="#9bbb59"/>
<rect x="146.6" y="991.76" width="6.04" height="64.94" fill="#4f81bd"/>
<rect x="158.69" y="926.81" width="6.04" height="129.89" fill="#9bbb59"/>
<rect x="173.79" y="926.81" width="6.04" height="129.89" fill="#4f81bd"/>
<rect x="200.98" y="991.76" width="6.04" height="64.94" fill="#4f81bd"/>
<rect x="207.02" y="991.76" width="6.04" height="64.94" fill="#c0504d"/>
<rect x="213.07" y="991.76" width="6.04" height="64.94" fill="#9bbb59"/>
<rect x="234.21" y="991.76" width="6.04" height="64.94" fill="#c0504d"/>
<rect x="255.36" y="926.81" width="6.04" height="129.89" fill="#4f81bd"/>
<rect x="261.4" y="991.76" width="6.04" height="64.94" fill="#c0504d"/>
<rect x="267.45" y="926.81" width="6.04" height="129.89" fill="#9bbb59"/>
<rect x="294.64" y="991.76" width="6.04" height="64.94" fill="#9bbb59"/>
<rect x="309.74" y="991.76" width="6.04" height="64.94" fill="#4f81bd"/>
<rect x="315.78" y="926.81" width="6.04" height="129.89" fill="#c0504d"/>
<rect x="321.83" y="926.81" width="6.04" height="129.89" fill="#9bbb59"/>
<rect x="336.93" y="926.81" width="6.04" height="129.89" fill="#4f81bd"/>
<rect x="342.97" y="991.76" width="6.04" height="64.94" fill="#c0504d"/>
<rect x="349.02" y="926.81" width="6.04" height="129.89" fill="#9bbb59"/>
<rect x="391.31" y="861.87" width="6.04" height="194.83" fill="#4f81bd"/>
<rect x="397.35" y="926.81" width="6.04" height="129.89" fill="#c0504d"/>
<rect x="403.4" y="926.81" width="6.04" height="129.89" fill="#9bbb59"/>
<rect x="418.5" y="991.76" width="6.04" height="64.94" fill="#4f81bd"/>
<rect x="424.54" y="991.76" width="6.04" height="64.94" fill="#c0504d"/>
<rect x="430.59" y="991.76" width="6.04" height="64.94" fill="#9bbb59"/>
<rect x="451.73" y="991.76" width="6.04" height="64.94" fill="#c0504d"/>
<rect x="484.97" y="991.76" width="6.04" height="64.94" fill="#9bbb59"/>
<rect x="500.07" y="991.76" width="6.04" height="64.94" fill="#4f81bd"/>
<rect x="506.11" y="991.76" width="6.04" height="64.94" fill="#c0504d"/>
<rect x="512.16" y="991.76" width="6.04" height="64.94" fill="#9bbb59"/>
<rect x="527.26" y="926.81" width="6.04" height="129.89" fill="#4f81bd"/>
<line x1="60.9" y1="829.4" x2="60.9" y2="1061.2" stroke="#8a8a8a" stroke-width="1"/>
<line x1="56.4" y1="1056.7" x2="604.7" y2="1056.7" stroke="#8a8a8a" stroke-width="1"/>
<line x1="56.4" y1="1024.23" x2="60.9" y2="1024.23" stroke="#8a8a8a" stroke-width="1"/>
<line x1="56.4" y1="991.76" x2="60.9" y2="991.76" stroke="#8a8a8a" stroke-width="1"/>
<line x1="56.4" y1="959.29" x2="60.9" y2="959.29" stroke="#8a8a8a" stroke-width="1"/>
<line x1="56.4" y1="926.81" x2="60.9" y2="926.81" stroke="#8a8a8a" stroke-width="1"/>
<line x1="56.4" y1="894.34" x2="60.9" y2="894.34" stroke="#8a8a8a" stroke-width="1"/>
<line x1="56.4" y1="861.87" x2="60.9" y2="861.87" stroke="#8a8a8a" stroke-width="1"/>
<line x1="56.4" y1="829.4" x2="60.9" y2="829.4" stroke="#8a8a8a" stroke-width="1"/>
<line x1="88.09" y1="1056.7" x2="88.09" y2="1061.2" stroke="#8a8a8a" stroke-width="1"/>
<line x1="142.47" y1="1056.7" x2="142.47" y2="1061.2" stroke="#8a8a8a" stroke-width="1"/>
<line x1="169.66" y1="1056.7" x2="169.66" y2="1061.2" stroke="#8a8a8a" stroke-width="1"/>
<line x1="196.85" y1="1056.7" x2="196.85" y2="1061.2" stroke="#8a8a8a" stroke-width="1"/>
<line x1="224.04" y1="1056.7" x2="224.04" y2="1061.2" stroke="#8a8a8a" stroke-width="1"/>
<line x1="251.23" y1="1056.7" x2="251.23" y2="1061.2" stroke="#8a8a8a" stroke-width="1"/>
<line x1="278.42" y1="1056.7" x2="278.42" y2="1061.2" stroke="#8a8a8a" stroke-width="1"/>
<line x1="305.61" y1="1056.7" x2="305.61" y2="1061.2" stroke="#8a8a8a" stroke-width="1"/>
<line x1="332.8" y1="1056.7" x2="332.8" y2="1061.2" stroke="#8a8a8a" stroke-width="1"/>
<line x1="359.99" y1="1056.7" x2="359.99" y2="1061.2" stroke="#8a8a8a" stroke-width="1"/>
<line x1="387.18" y1="1056.7" x2="387.18" y2="1061.2" stroke="#8a8a8a" stroke-width="1"/>
<line x1="414.37" y1="1056.7" x2="414.37" y2="1061.2" stroke="#8a8a8a" stroke-width="1"/>
<line x1="441.56" y1="1056.7" x2="441.56" y2="1061.2" stroke="#8a8a8a" stroke-width="1"/>
<line x1="468.75" y1="1056.7" x2="468.75" y2="1061.2" stroke="#8a8a8a" stroke-width="1"/>
<line x1="495.94" y1="1056.7" x2="495.94" y2="1061.2" stroke="#8a8a8a" stroke-width="1"/>
<line x1="550.32" y1="1056.7" x2="550.32" y2="1061.2" stroke="#8a8a8a" stroke-width="1"/>
<line x1="577.51" y1="1056.7" x2="577.51" y2="1061.2" stroke="#8a8a8a" stroke-width="1"/>
<line x1="604.7" y1="1056.7" x2="604.7" y2="1061.2" stroke="#8a8a8a" stroke-width="1"/>
<g transform="translate(50.5,1056.7) scale(0.925,1.0)"><text x="0" y="3.91" text-anchor="end" font-size="10.48" textLength="5.47" lengthAdjust="spacingAndGlyphs" fill="#111" stroke="#111" stroke-width="0.2">0</text></g>
<g transform="translate(50.5,1024.23) scale(0.925,1.0)"><text x="0" y="3.91" text-anchor="end" font-size="10.48" textLength="13.39" lengthAdjust="spacingAndGlyphs" fill="#111" stroke="#111" stroke-width="0.2">0 5</text></g>
<g transform="translate(50.5,991.76) scale(0.925,1.0)"><text x="0" y="3.91" text-anchor="end" font-size="10.48" textLength="5.47" lengthAdjust="spacingAndGlyphs" fill="#111" stroke="#111" stroke-width="0.2">1</text></g>
<g transform="translate(50.5,959.29) scale(0.925,1.0)"><text x="0" y="3.91" text-anchor="end" font-size="10.48" textLength="13.39" lengthAdjust="spacingAndGlyphs" fill="#111" stroke="#111" stroke-width="0.2">1 5</text></g>
<g transform="translate(50.5,926.81) scale(0.925,1.0)"><text x="0" y="3.91" text-anchor="end" font-size="10.48" textLength="5.47" lengthAdjust="spacingAndGlyphs" fill="#111" stroke="#111" stroke-width="0.2">2</text></g>
<g transform="translate(50.5,894.34) scale(0.925,1.0)"><text x="0" y="3.91" text-anchor="end" font-size="10.48" textLength="13.39" lengthAdjust="spacingAndGlyphs" fill="#111" stroke="#111" stroke-width="0.2">2 5</text></g>
<g transform="translate(50.5,861.87) scale(0.925,1.0)"><text x="0" y="3.91" text-anchor="end" font-size="10.48" textLength="5.47" lengthAdjust="spacingAndGlyphs" fill="#111" stroke="#111" stroke-width="0.2">3</text></g>
<g transform="translate(50.5,829.4) scale(0.925,1.0)"><text x="0" y="3.91" text-anchor="end" font-size="10.48" textLength="13.39" lengthAdjust="spacingAndGlyphs" fill="#111" stroke="#111" stroke-width="0.2">3 5</text></g>
<g transform="translate(78.09,1077.9) scale(0.925,1.0) rotate(-45)"><text x="0" y="0" text-anchor="end" font-size="14.97" textLength="31.59" lengthAdjust="spacingAndGlyphs" stroke="#000" stroke-width="0.3">MMI</text></g>
<g transform="translate(105.28,1077.9) scale(0.925,1.0) rotate(-45)"><text x="0" y="0" text-anchor="end" font-size="14.97" textLength="13.96" lengthAdjust="spacingAndGlyphs" stroke="#000" stroke-width="0.3">DI</text></g>
<g transform="translate(132.47,1077.9) scale(0.925,1.0) rotate(-45)"><text x="0" y="0" text-anchor="end" font-size="14.97" textLength="22.72" lengthAdjust="spacingAndGlyphs" stroke="#000" stroke-width="0.3">DBI</text></g>
<g transform="translate(159.67,1077.9) scale(0.925,1.0) rotate(-45)"><text x="0" y="0" text-anchor="end" font-size="14.97" textLength="18.22" lengthAdjust="spacingAndGlyphs" stroke="#000" stroke-width="0.3">SLI</text></g>
<g transform="translate(186.86,1077.9) scale(0.925,1.0) rotate(-45)"><text x="0" y="0" text-anchor="end" font-size="14.97" textLength="12.64" lengthAdjust="spacingAndGlyphs" stroke="#000" stroke-width="0.3">CI</text></g>
<g transform="translate(214.05,1077.9) scale(0.925,1.0) rotate(-45)"><text x="0" y="0" text-anchor="end" font-size="14.97" textLength="22.58" lengthAdjust="spacingAndGlyphs" stroke="#000" stroke-width="0.3">GKI</text></g>
<g transform="translate(241.24,1077.9) scale(0.925,1.0) rotate(-45)"><text x="0" y="0" text-anchor="end" font-size="14.97" textLength="8.11" lengthAdjust="spacingAndGlyphs" stroke="#000" stroke-width="0.3">II</text></g>
<g transform="translate(268.43,1077.9) scale(0.925,1.0) rotate(-45)"><text x="0" y="0" text-anchor="end" font-size="14.97" textLength="20.96" lengthAdjust="spacingAndGlyphs" stroke="#000" stroke-width="0.3">PCI</text></g>
<g transform="translate(295.62,1077.9) scale(0.925,1.0) rotate(-45)"><text x="0" y="0" text-anchor="end" font-size="14.97" textLength="20.5" lengthAdjust="spacingAndGlyphs" stroke="#000" stroke-width="0.3">CEI</text></g>
<g transform="translate(322.81,1077.9) scale(0.925,1.0) rotate(-45)"><text x="0" y="0" text-anchor="end" font-size="14.97" textLength="20.04" lengthAdjust="spacingAndGlyphs" stroke="#000" stroke-width="0.3">SCI</text></g>
<g transform="translate(350,1077.9) scale(0.925,1.0) rotate(-45)"><text x="0" y="0" text-anchor="end" font-size="14.97" textLength="11.45" lengthAdjust="spacingAndGlyphs" stroke="#000" stroke-width="0.3">SI</text></g>
<g transform="translate(377.19,1077.9) scale(0.925,1.0) rotate(-45)"><text x="0" y="0" text-anchor="end" font-size="14.97" textLength="21.17" lengthAdjust="spacingAndGlyphs" stroke="#000" stroke-width="0.3">XBI</text></g>
<g transform="translate(404.38,1077.9) scale(0.925,1.0) rotate(-45)"><text x="0" y="0" text-anchor="end" font-size="14.97" textLength="23.28" lengthAdjust="spacingAndGlyphs" stroke="#000" stroke-width="0.3">ADI</text></g>
<g transform="translate(431.57,1077.9) scale(0.925,1.0) rotate(-45)"><text x="0" y="0" text-anchor="end" font-size="14.97" textLength="18.62" lengthAdjust="spacingAndGlyphs" stroke="#000" stroke-width="0.3">FSI</text></g>
<g transform="translate(458.76,1077.9) scale(0.925,1.0) rotate(-45)"><text x="0" y="0" text-anchor="end" font-size="14.97" textLength="30.62" lengthAdjust="spacingAndGlyphs" stroke="#000" stroke-width="0.3">FHVI</text></g>
<g transform="translate(485.95,1077.9) scale(0.925,1.0) rotate(-45)"><text x="0" y="0" text-anchor="end" font-size="14.97" textLength="34.72" lengthAdjust="spacingAndGlyphs" stroke="#000" stroke-width="0.3">MPCI</text></g>
<g transform="translate(513.14,1077.9) scale(0.925,1.0) rotate(-45)"><text x="0" y="0" text-anchor="end" font-size="14.97" textLength="45.38" lengthAdjust="spacingAndGlyphs" stroke="#000" stroke-width="0.3">PCAESI</text></g>
<g transform="translate(540.33,1077.9) scale(0.925,1.0) rotate(-45)"><text x="0" y="0" text-anchor="end" font-size="14.97" textLength="26.01" lengthAdjust="spacingAndGlyphs" stroke="#000" stroke-width="0.3">AICI</text></g>
<g transform="translate(567.52,1077.9) scale(0.925,1.0) rotate(-45)"><text x="0" y="0" text-anchor="end" font-size="14.97" textLength="35.72" lengthAdjust="spacingAndGlyphs" stroke="#000" stroke-width="0.3">CWBI</text></g>
<g transform="translate(594.71,1077.9) scale(0.925,1.0) rotate(-45)"><text x="0" y="0" text-anchor="end" font-size="14.97" textLength="42.29" lengthAdjust="spacingAndGlyphs" stroke="#000" stroke-width="0.3">PBMFI</text></g>
<g transform="translate(352.3,797.5) scale(0.925,1.0)"><text class="b" x="0" y="0" text-anchor="middle" font-size="19.08" textLength="128.74" lengthAdjust="spacingAndGlyphs">Fuzzy c-means</text></g>
<g transform="translate(332.2,1121.8) scale(0.925,1.0)"><text class="b" x="0" y="0" text-anchor="middle" font-size="19.62" textLength="132.66" lengthAdjust="spacingAndGlyphs">Validity Indices</text></g>
<g transform="translate(30.9,948.3) scale(0.925,1.0) rotate(-90)"><text class="b" x="0" y="0" text-anchor="middle" font-size="20.68" textLength="13.81" lengthAdjust="spacingAndGlyphs">Z'</text></g>
<rect x="599.2" y="918.2" width="8.2" height="8.2" fill="#4f81bd"/>
<g transform="translate(612,922.3) scale(0.925,1.0)"><text x="0" y="4.9" font-size="14.25" textLength="28.47" lengthAdjust="spacingAndGlyphs" stroke="#000" stroke-width="0.2">lung</text></g>
<rect x="599.2" y="936" width="8.2" height="8.2" fill="#c0504d"/>
<g transform="translate(612,940.1) scale(0.925,1.0)"><text x="0" y="4.9" font-size="14.25" textLength="59.84" lengthAdjust="spacingAndGlyphs" stroke="#000" stroke-width="0.2">leukemia</text></g>
<rect x="599.2" y="954.8" width="8.2" height="8.2" fill="#9bbb59"/>
<g transform="translate(612,958.9) scale(0.925,1.0)"><text x="0" y="4.9" font-size="14.25" textLength="36.17" lengthAdjust="spacingAndGlyphs" stroke="#000" stroke-width="0.2">colon</text></g>
</g>
</svg>
</body></html>
